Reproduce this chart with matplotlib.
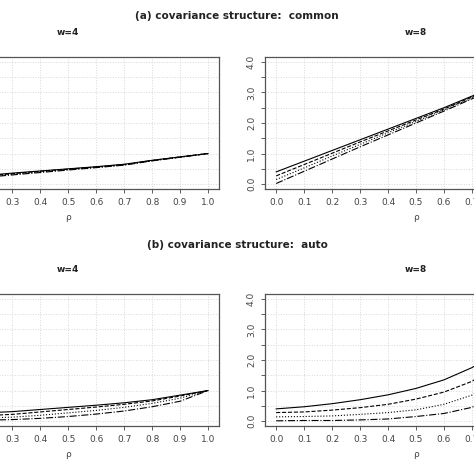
import numpy as np
import matplotlib
matplotlib.use("Agg")
import matplotlib.pyplot as plt

rho = [0.0, 0.1, 0.2, 0.3, 0.4, 0.5, 0.6, 0.7, 0.8, 0.9, 1.0]

# (a) common, w=4
common_w4 = [
    [0.14, 0.21, 0.28, 0.36, 0.43, 0.50, 0.57, 0.65, 0.78, 0.89, 1.0],
    [0.11, 0.19, 0.26, 0.34, 0.42, 0.49, 0.56, 0.64, 0.77, 0.89, 1.0],
    [0.08, 0.16, 0.24, 0.32, 0.40, 0.48, 0.55, 0.63, 0.77, 0.88, 1.0],
    [0.05, 0.13, 0.22, 0.30, 0.38, 0.46, 0.54, 0.62, 0.76, 0.88, 1.0],
]
# (a) common, w=8
common_w8 = [
    [0.40, 0.75, 1.10, 1.45, 1.80, 2.15, 2.50, 2.88, 3.25, 3.62, 4.0],
    [0.27, 0.64, 1.01, 1.38, 1.74, 2.10, 2.46, 2.85, 3.23, 3.61, 4.0],
    [0.15, 0.53, 0.92, 1.30, 1.68, 2.05, 2.43, 2.82, 3.21, 3.60, 4.0],
    [0.02, 0.42, 0.82, 1.22, 1.61, 2.00, 2.39, 2.79, 3.19, 3.59, 4.0],
]
# (b) auto, w=4
auto_w4 = [
    [0.20, 0.23, 0.27, 0.31, 0.38, 0.45, 0.52, 0.60, 0.70, 0.85, 1.0],
    [0.13, 0.15, 0.18, 0.22, 0.30, 0.38, 0.46, 0.55, 0.66, 0.82, 1.0],
    [0.07, 0.08, 0.10, 0.13, 0.19, 0.27, 0.35, 0.45, 0.58, 0.75, 1.0],
    [0.01, 0.02, 0.03, 0.05, 0.09, 0.15, 0.23, 0.33, 0.47, 0.65, 1.0],
]
# (b) auto, w=8
auto_w8 = [
    [0.40, 0.47, 0.57, 0.70, 0.86, 1.07, 1.35, 1.75, 2.30, 3.00, 4.0],
    [0.28, 0.30, 0.36, 0.44, 0.55, 0.72, 0.95, 1.30, 1.90, 2.80, 4.0],
    [0.14, 0.15, 0.17, 0.22, 0.28, 0.37, 0.55, 0.85, 1.40, 2.40, 4.0],
    [0.01, 0.02, 0.02, 0.04, 0.07, 0.15, 0.25, 0.45, 0.90, 1.90, 4.0],
]

styles = ["-", "--", ":", "-."]

fig = plt.figure(figsize=(4.74, 4.74), dpi=100)
W = 474.0

def panel(left_px, top_px, data, title):
    ax = fig.add_axes([left_px / W, (W - top_px - 132) / W, 302 / W, 132 / W])
    for ys, ls in zip(data, styles):
        ax.plot(rho, ys, color="black", linestyle=ls, linewidth=0.8)
    ax.set_xlim(-0.04, 1.04)
    ax.set_ylim(-0.16, 4.16)
    ax.set_xticks(rho)
    ax.set_xticklabels([f"{v:.1f}" for v in rho])
    ax.set_yticks(np.arange(0, 4.01, 0.5))
    ax.set_yticklabels([f"{v:.1f}" if v == int(v) else "" for v in np.arange(0, 4.01, 0.5)],
                       rotation=90, va="center")
    ax.grid(True, color="#d8d8d8", linestyle=":", linewidth=0.7)
    ax.tick_params(labelsize=6.5, colors="#444444", length=3, width=0.6)
    for s in ax.spines.values():
        s.set_color("#555555")
        s.set_linewidth(0.9)
    ax.set_xlabel("ρ", fontsize=6.5, color="#444444")
    ax.set_title(title, fontsize=6.5, fontweight="bold", color="#222222", pad=16)
    return ax

panel(-82.8, 57, common_w4, "w=4")
panel(265, 57, common_w8, "w=8")
panel(-82.8, 294, auto_w4, "w=4")
panel(265, 294, auto_w8, "w=8")

fig.text(237 / W, 1 - 16 / W, "(a) covariance structure:  common", ha="center", va="center",
         fontsize=7.5, fontweight="bold", color="#222222")
fig.text(237 / W, 1 - 245 / W, "(b) covariance structure:  auto", ha="center", va="center",
         fontsize=7.5, fontweight="bold", color="#222222")

fig.savefig("out.png", dpi=100)
